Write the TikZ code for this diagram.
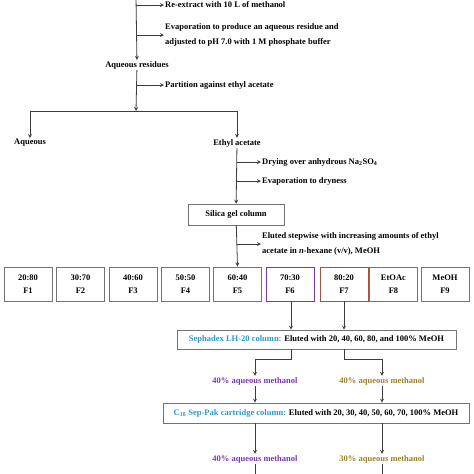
\documentclass[tikz,border=0pt]{standalone}
\usepackage{fontspec}
\setmainfont{Liberation Serif}
\usetikzlibrary{arrows,positioning}
\definecolor{violetf}{RGB}{118,52,200}
\definecolor{brickf}{RGB}{168,82,62}
\definecolor{olivef}{RGB}{156,128,40}
\definecolor{skyf}{RGB}{40,150,215}
\definecolor{linegray}{RGB}{60,60,60}
\definecolor{boxgray}{RGB}{115,115,115}
\tikzset{
    txt/.style={font=\bfseries\fontsize{8.5}{14.5}\selectfont,inner sep=1pt},
    note/.style={txt,anchor=west,align=left},
    frac/.style={txt,font=\bfseries\fontsize{8.5}{13}\selectfont,draw=#1,thick,minimum width=48,minimum height=34,align=center},
    colbox/.style={txt,draw=boxgray,semithick},
    pre/.style={->,line width=0.8pt,>=stealth,draw=linegray},
    bi/.style={-,line width=0.8pt,draw=linegray}
}

\begin{document}
\begin{tikzpicture}[x=1pt,y=-1pt]
    \useasboundingbox (0,0) rectangle (474,474);

    % crude extract to aqueous residues
    \coordinate (top) at (136,-3);
    \coordinate (b 1) at (136,5);
    \coordinate (b 2) at (136,35);
    \node[txt]  (aq res) at (137,65)  {Aqueous residues};
    \node[note] (reext)  at (164,5)   {Re-extract with 10 L of methanol};
    \node[note] (evap)   at (164,35)  {Evaporation to produce an aqueous residue and\\adjusted to pH 7.0 with 1 M phosphate buffer};
    \draw[pre] (top) -- (aq res);
    \draw[pre] (b 1) -- (reext);
    \draw[pre] (b 2) -- (evap);

    % partition
    \coordinate (b 3) at (136,85);
    \coordinate (split) at (136,111);
    \coordinate (split l) at (30,111);
    \coordinate (split r) at (237,111);
    \node[note] (part) at (164,85)  {Partition against ethyl acetate};
    \node[txt]  (aq)   at (30,143)  {Aqueous};
    \node[txt]  (ea)   at (237,143) {Ethyl acetate};
    \draw[pre] (aq res) -- (split);
    \draw[pre] (b 3) -- (part);
    \draw[bi]  (split l) -- (split r);
    \draw[pre] (split l) -- (aq);
    \draw[pre] (split r) -- (ea);

    % silica gel
    \coordinate (b 4) at (237,162);
    \coordinate (b 5) at (237,181);
    \coordinate (b 6) at (237,244);
    \node[colbox,minimum width=96,minimum height=21] (silica) at (236,214.5) {Silica gel column};
    \node[note] (dry)    at (261,162) {Drying over anhydrous Na\textsubscript{2}SO\textsubscript{4}};
    \node[note] (dryness) at (261,181) {Evaporation to dryness};
    \node[note] (elute)  at (261,244) {Eluted stepwise with increasing amounts of ethyl\\acetate in \textit{n}-hexane (v/v), MeOH};
    \draw[pre] (ea) -- (silica);
    \draw[pre] (b 4) -- (dry);
    \draw[pre] (b 5) -- (dryness);
    \draw[pre] (b 6) -- (elute);

    % fractions
    \foreach \n/\x/\r/\c in {1/28/20:80/boxgray, 2/80.5/30:70/boxgray, 3/133/40:60/boxgray,
                             4/185.5/50:50/boxgray, 5/237.5/60:40/boxgray, 6/290/70:30/violetf,
                             7/344/80:20/brickf, 8/393.5/EtOAc/boxgray, 9/445/MeOH/boxgray}
        \node[frac=\c] (f \n) at (\x,284) {\r\\F\n};
    \draw[pre] (silica) -- (f 5 |- f 5.north);

    % sephadex
    \node[colbox,minimum width=279,minimum height=19] (seph) at (316.5,339.5)
        {\textcolor{skyf}{Sephadex LH-20 column:} Eluted with 20, 40, 60, 80, and 100\% MeOH};
    \node[txt,text=violetf] (meth 1) at (255,381) {40\% aqueous methanol};
    \node[txt,text=olivef]  (meth 2) at (382,381) {40\% aqueous methanol};
    \draw[pre] (f 6.south -| 291,0) -- (seph.north -| 291,0);
    \draw[pre] (f 7) -- (seph.north -| f 7);
    \draw[pre] (seph.south -| 291,0) -- ++(0,10) -| (meth 1);
    \draw[pre] (seph.south -| f 7) -- ++(0,10) -| (meth 2);

    % C18
    \node[colbox,minimum width=306,minimum height=20] (c18) at (316,413)
        {\textcolor{skyf}{C\textsubscript{18} Sep-Pak cartridge column:} Eluted with 20, 30, 40, 50, 60, 70, 100\% MeOH};
    \node[txt,text=violetf] (meth 3) at (255,459) {40\% aqueous methanol};
    \node[txt,text=olivef]  (meth 4) at (382,459) {30\% aqueous methanol};
    \coordinate (end 1) at (255,478);
    \coordinate (end 2) at (382,478);
    \draw[pre] (meth 1) -- (c18.north -| meth 1);
    \draw[pre] (meth 2) -- (c18.north -| meth 2);
    \draw[pre] (c18.south -| meth 3) -- (meth 3);
    \draw[pre] (c18.south -| meth 4) -- (meth 4);
    \draw[bi] (meth 3) -- (end 1);
    \draw[bi] (meth 4) -- (end 2);
\end{tikzpicture}
\end{document}
